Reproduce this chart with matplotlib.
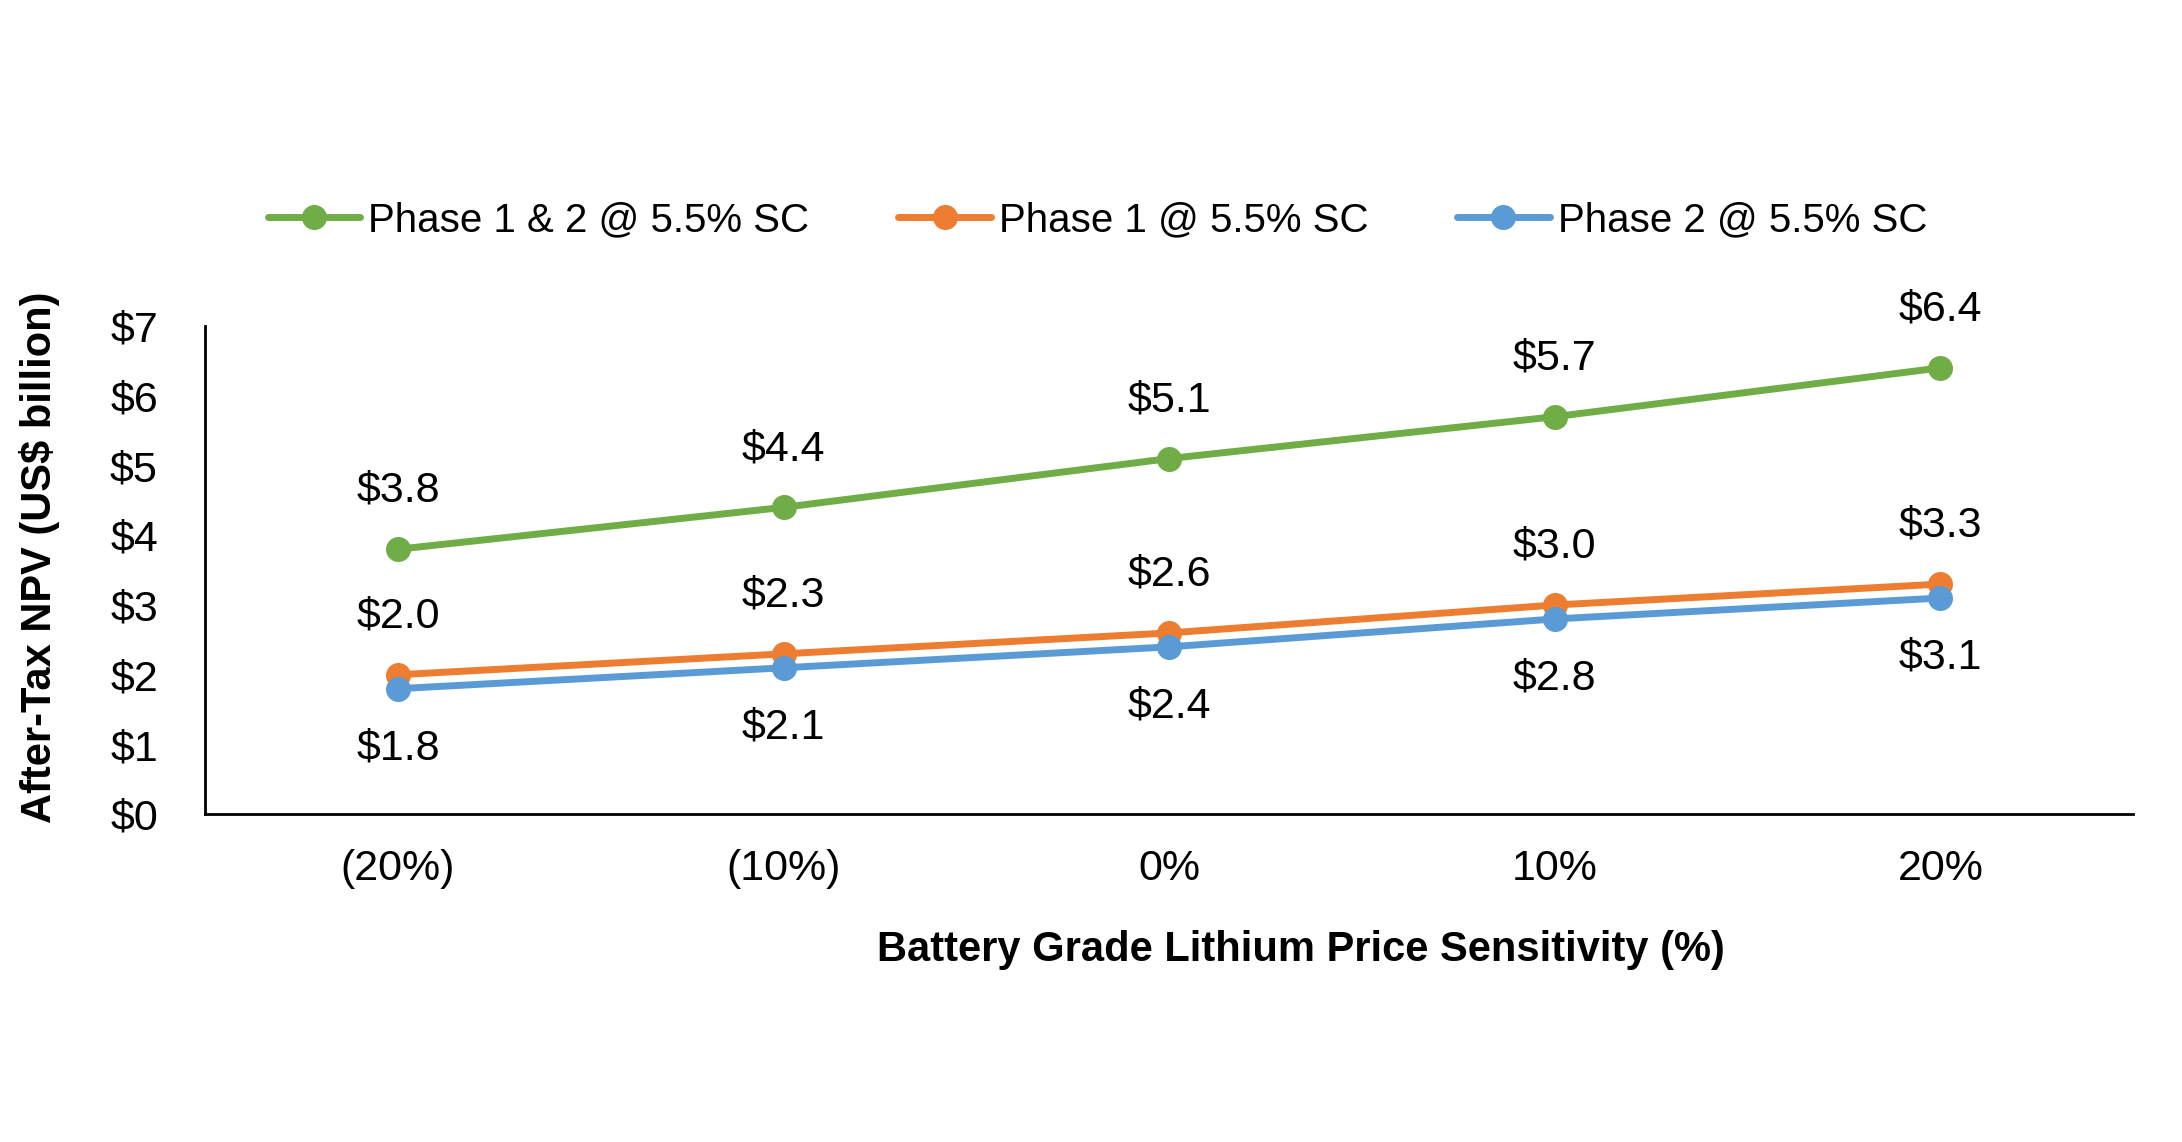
import matplotlib
matplotlib.use("Agg")
import matplotlib.pyplot as plt

plt.rcParams['font.family'] = ['Liberation Sans', 'DejaVu Sans']

categories = ['(20%)', '(10%)', '0%', '10%', '20%']
phase_12 = [3.8, 4.4, 5.1, 5.7, 6.4]
phase_1 = [2.0, 2.3, 2.6, 3.0, 3.3]
phase_2 = [1.8, 2.1, 2.4, 2.8, 3.1]
y_ticks = [0, 1, 2, 3, 4, 5, 6, 7]

series = [
    ('Phase 1 & 2 @ 5.5% SC', phase_12, '#70AD47', 'above'),
    ('Phase 1 @ 5.5% SC', phase_1, '#ED7D31', 'above'),
    ('Phase 2 @ 5.5% SC', phase_2, '#5B9BD5', 'below'),
]

fig = plt.figure(figsize=(21.82, 11.42), dpi=100)
ax = fig.add_axes([0.094, 0.287, 0.8836, 0.4275])

x = [i + 0.5 for i in range(len(categories))]

for name, vals, color, pos in series:
    ax.plot(x, vals, color=color, linewidth=5, marker='o', markersize=17,
            label=name, solid_capstyle='round')
    for xi, v in zip(x, vals):
        dy = 42 if pos == 'above' else -43
        ax.annotate(f'${v:.1f}', (xi, v), xytext=(0, dy), textcoords='offset points',
                    ha='center', va='center', fontsize=31)

ax.set_xlim(0, len(categories))
ax.set_ylim(0, 7)
ax.set_xticks(x)
ax.set_xticklabels(categories)
ax.set_yticks(y_ticks)
ax.set_yticklabels([f'${t}' for t in y_ticks])
ax.tick_params(axis='both', length=0, labelsize=31)
ax.tick_params(axis='x', pad=25)
ax.tick_params(axis='y', pad=34)

for s in ['top', 'right']:
    ax.spines[s].set_visible(False)
for s in ['left', 'bottom']:
    ax.spines[s].set_linewidth(2)
    ax.spines[s].set_color('black')

fig.text(0.596, 0.168, 'Battery Grade Lithium Price Sensitivity (%)',
         ha='center', va='center', fontsize=30, fontweight='bold')
fig.text(0.018, 0.512, 'After-Tax NPV (US$ billion)', rotation=90,
         ha='center', va='center', fontsize=30, fontweight='bold')

fig.legend(loc='center', bbox_to_anchor=(0.503, 0.807), ncol=3, frameon=False,
           fontsize=29, handlelength=2.3, handletextpad=0.2, columnspacing=2.2)

fig.savefig('out.png', dpi=100)
